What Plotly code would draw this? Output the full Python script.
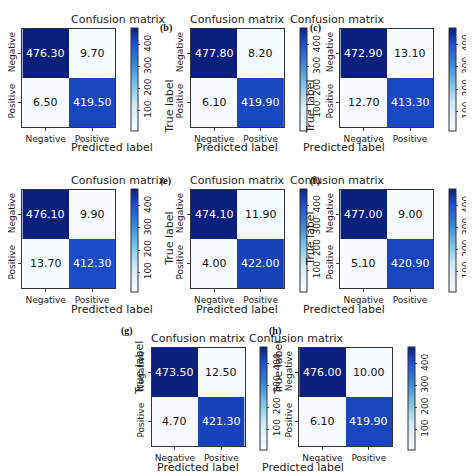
import plotly.graph_objects as go

classes = ["Negative", "Positive"]
panel_labels = ["(a)", "(b)", "(c)", "(d)", "(e)", "(f)", "(g)", "(h)"]
tn = [476.30, 477.80, 472.90, 476.10, 474.10, 477.00, 473.50, 476.00]
fp = [9.70, 8.20, 13.10, 9.90, 11.90, 9.00, 12.50, 10.00]
fn = [6.50, 6.10, 12.70, 13.70, 4.00, 5.10, 4.70, 6.10]
tp = [419.50, 419.90, 413.30, 412.30, 422.00, 420.90, 421.30, 419.90]
cb_ticks = [100, 200, 300, 400]

W = H = 474
pos = [(15, 21), (191, 21), (347, 21), (15, 182), (191, 182), (347, 182), (150, 340), (304, 340)]
hw, hh = 97, 98
scale = [[0, "#f7fbff"], [0.25, "#d4ecf5"], [0.45, "#7cc4e4"], [0.65, "#3a86d6"], [0.85, "#1c4fd0"], [1, "#0b1f7c"]]

def px(v): return v / W
def py(v): return 1 - v / H

fig = go.Figure()
anns = []
for i in range(8):
    x0, y0 = pos[i]
    z = [[tn[i], fp[i]], [fn[i], tp[i]]]
    zmin = min(tn[i], fp[i], fn[i], tp[i]); zmax = max(tn[i], fp[i], fn[i], tp[i])
    sfx = "" if i == 0 else str(i + 1)
    fig.add_trace(go.Heatmap(z=z, x=classes, y=classes, xaxis="x" + sfx, yaxis="y" + sfx,
        coloraxis="coloraxis" + sfx, hoverinfo="skip"))
    fig.update_layout(**{
        "xaxis" + sfx: dict(domain=[px(x0), px(x0 + hw)], anchor="y" + sfx, tickangle=0,
                            tickfont=dict(size=9, color="#222"),
                            ticks="outside", ticklen=3, showline=True, mirror=True, linecolor="#333", showgrid=False),
        "yaxis" + sfx: dict(domain=[py(y0 + hh), py(y0)], anchor="x" + sfx, autorange="reversed", tickangle=-90,
                            tickfont=dict(size=9, color="#222"), ticks="outside", ticklen=3,
                            showline=True, mirror=True, linecolor="#333", showgrid=False),
        "coloraxis" + sfx: dict(colorscale=scale, cmin=zmin, cmax=zmax,
            colorbar=dict(x=px(x0 + hw + 6), xanchor="left", y=py(y0 - 11), yanchor="top",
                          len=123 / H, lenmode="fraction", thickness=7, outlinewidth=1, outlinecolor="#333",
                          tickvals=cb_ticks, tickangle=-90, tickfont=dict(size=9, color="#222"),
                          ticks="outside", ticklen=2)),
    })
    for r, row in enumerate(z):
        for c, v in enumerate(row):
            anns.append(dict(x=classes[c], y=classes[r], xref="x" + sfx, yref="y" + sfx, text=f"{v:.2f}",
                             showarrow=False, font=dict(size=11, color="white" if v > (zmin + zmax) / 2 else "#111")))
    cx = x0 + hw / 2
    anns.append(dict(x=px(cx), y=py(y0 - 1), xref="paper", yref="paper", text="Confusion matrix",
                     showarrow=False, yanchor="bottom", font=dict(size=11, color="#222")))
    anns.append(dict(x=px(cx), y=py(y0 + hh + 21), xref="paper", yref="paper", text="Predicted label",
                     showarrow=False, yanchor="middle", font=dict(size=11, color="#222")))
    if x0 > 30:
        anns.append(dict(x=px(x0 - 22), y=py(y0 + hh / 2), xref="paper", yref="paper", text="True label",
                         showarrow=False, textangle=-90, font=dict(size=11, color="#222")))
        anns.append(dict(x=px(x0 - 34), y=py(y0 - 9), xref="paper", yref="paper", text="<b>" + panel_labels[i] + "</b>",
                         showarrow=False, xanchor="left", font=dict(size=10, family="Liberation Serif", color="#111")))

fig.update_layout(width=W, height=H, margin=dict(l=0, r=0, t=0, b=0), paper_bgcolor="white",
                  plot_bgcolor="white", annotations=anns, showlegend=False,
                  font=dict(family="DejaVu Sans"))
fig.write_html("out.html")
